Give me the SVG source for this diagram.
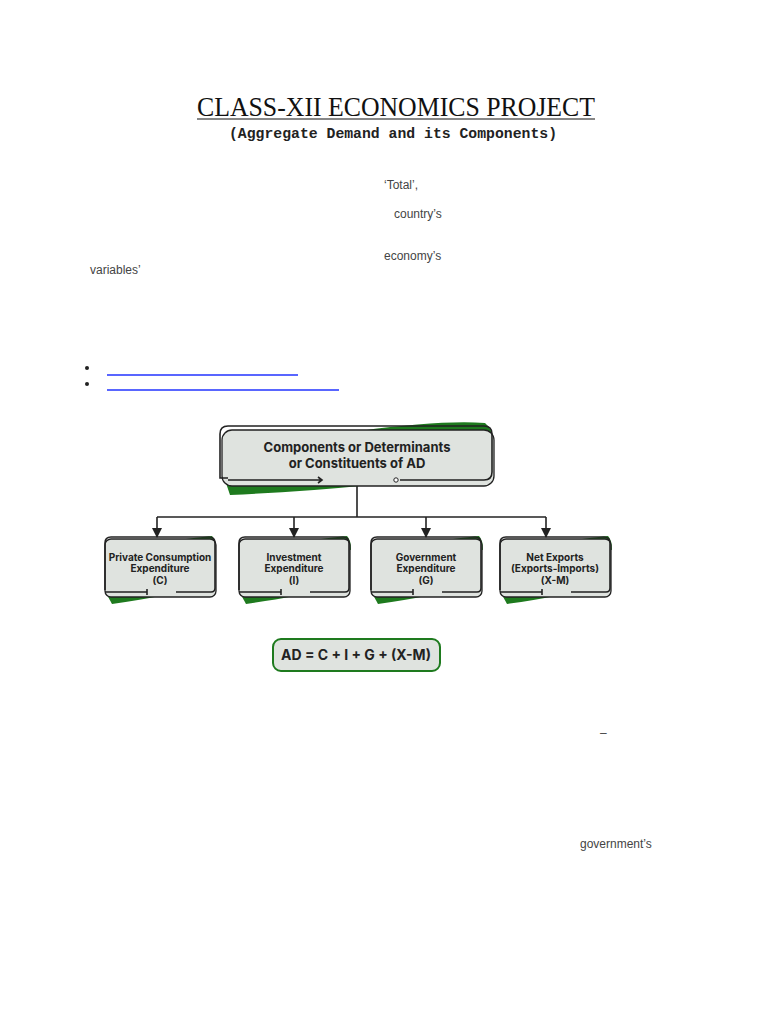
<svg xmlns="http://www.w3.org/2000/svg" width="768" height="1024" viewBox="0 0 768 1024">
<style>
.t{font-family:"Liberation Sans",Arial,sans-serif;font-size:12px;fill:#444}
.b{font-family:"Inter","Liberation Sans",sans-serif;font-weight:bold;fill:#222;text-anchor:middle}
.box{fill:#dfe3df;stroke:#222;stroke-width:1.3}
.g{fill:#1e7a1e}
.ln{stroke:#222;stroke-width:1.6;fill:none}
</style>
<defs>
<marker id="dn" viewBox="0 0 10 10" refX="5" refY="9" markerWidth="10" markerHeight="10" markerUnits="userSpaceOnUse"><path d="M0,0 L10,0 L5,10 Z" fill="#222"/></marker>
</defs>
<rect width="768" height="1024" fill="#fff"/>
<g id="title">
<text x="396" y="116" text-anchor="middle" font-family="Liberation Serif,serif" font-size="27" fill="#111" textLength="398" lengthAdjust="spacingAndGlyphs">CLASS-XII ECONOMICS PROJECT</text>
<line x1="197" y1="119" x2="595" y2="119" stroke="#111" stroke-width="1.2"/>
<text x="393" y="138" text-anchor="middle" font-family="Liberation Mono,monospace" font-weight="bold" font-size="14" fill="#222" textLength="328" lengthAdjust="spacingAndGlyphs">(Aggregate Demand and its Components)</text>
</g>
<g id="texts">
<text class="t" x="384" y="189">‘Total’,</text>
<text class="t" x="394" y="218">country’s</text>
<text class="t" x="384" y="260">economy’s</text>
<text class="t" x="90" y="274">variables’</text>
<text class="t" x="600" y="737">–</text>
<text class="t" x="580" y="848">government’s</text>
<circle cx="87" cy="368" r="2" fill="#222"/>
<circle cx="87" cy="384" r="2" fill="#222"/>
<line x1="107" y1="375" x2="298" y2="375" stroke="#2233ff" stroke-width="1.4"/>
<line x1="107" y1="390" x2="339" y2="390" stroke="#2233ff" stroke-width="1.4"/>
</g>
<g id="connectors">
<line class="ln" x1="357" y1="485" x2="357" y2="517"/>
<line class="ln" x1="157" y1="517" x2="546" y2="517"/>
<line class="ln" x1="157" y1="517" x2="157" y2="537" marker-end="url(#dn)"/>
<line class="ln" x1="294" y1="517" x2="294" y2="537" marker-end="url(#dn)"/>
<line class="ln" x1="426" y1="517" x2="426" y2="537" marker-end="url(#dn)"/>
<line class="ln" x1="546" y1="517" x2="546" y2="537" marker-end="url(#dn)"/>
</g>
<g id="main">
<path class="g" d="M360,431 Q440,420 485,423 Q494,430 494,445 L480,432 Z"/>
<path class="g" d="M225,480 L230,495 Q300,492 360,486 L240,484 Z"/>
<rect class="box" x="222" y="430" width="272" height="56" rx="10" stroke="none"/>
<path d="M228,478 L220,478 L220,434 Q220,426 228,426 L484,426 Q492,426 492,434 L492,472 Q492,480 484,480 L400,480" class="ln" stroke-width="1.2"/>
<path d="M228,480 L322,480 M318,477 L322,480 L318,483" class="ln" stroke-width="1.2"/>
<circle cx="396" cy="480" r="2.2" fill="#fff" stroke="#222"/>
<text class="b" x="357" y="452" font-size="13">Components or Determinants</text>
<text class="b" x="357" y="468" font-size="13">or Constituents of AD</text>
</g>
<g id="n1">
<path class="g" d="M170,541 Q200,537 212,536 Q216,540 216,550 Z"/><path class="g" d="M106,593 L112,604 Q140,600 160,596 Z"/>
<rect class="box" x="105" y="539" width="111" height="58" rx="6" stroke="none"/>
<path d="M105,590 L105,543 Q105,537 111,537 L209,537 Q215,537 215,543 L215,588 Q215,592 211,592 L176,592 M105,592 L147,592 M147,589 L147,595" class="ln" stroke-width="1.1"/>
<text class="b" x="160" y="561" font-size="10">Private Consumption</text><text class="b" x="160" y="572" font-size="10">Expenditure</text><text class="b" x="160" y="584" font-size="10">(C)</text>
</g>
<g id="n2">
<path class="g" d="M305,541 Q335,537 347,536 Q351,540 351,550 Z"/><path class="g" d="M240,593 L246,604 Q274,600 294,596 Z"/>
<rect class="box" x="239" y="539" width="111" height="58" rx="6" stroke="none"/>
<path d="M239,590 L239,543 Q239,537 245,537 L343,537 Q349,537 349,543 L349,588 Q349,592 345,592 L310,592 M239,592 L281,592 M281,589 L281,595" class="ln" stroke-width="1.1"/>
<text class="b" x="294" y="561" font-size="10">Investment</text><text class="b" x="294" y="572" font-size="10">Expenditure</text><text class="b" x="294" y="584" font-size="10">(I)</text>
</g>
<g id="n3">
<path class="g" d="M437,541 Q467,537 479,536 Q483,540 483,550 Z"/><path class="g" d="M372,593 L378,604 Q406,600 426,596 Z"/>
<rect class="box" x="371" y="539" width="111" height="58" rx="6" stroke="none"/>
<path d="M371,590 L371,543 Q371,537 377,537 L475,537 Q481,537 481,543 L481,588 Q481,592 477,592 L442,592 M371,592 L413,592 M413,589 L413,595" class="ln" stroke-width="1.1"/>
<text class="b" x="426" y="561" font-size="10">Government</text><text class="b" x="426" y="572" font-size="10">Expenditure</text><text class="b" x="426" y="584" font-size="10">(G)</text>
</g>
<g id="n4">
<path class="g" d="M566,541 Q596,537 608,536 Q612,540 612,550 Z"/><path class="g" d="M501,593 L507,604 Q535,600 555,596 Z"/>
<rect class="box" x="500" y="539" width="111" height="58" rx="6" stroke="none"/>
<path d="M500,590 L500,543 Q500,537 506,537 L604,537 Q610,537 610,543 L610,588 Q610,592 606,592 L571,592 M500,592 L542,592 M542,589 L542,595" class="ln" stroke-width="1.1"/>
<text class="b" x="555" y="561" font-size="10">Net Exports</text><text class="b" x="555" y="572" font-size="10">(Exports-Imports)</text><text class="b" x="555" y="584" font-size="10">(X-M)</text>
</g>
<g id="formula">
<rect x="273" y="639" width="167" height="32" rx="8" fill="#dfe3df" stroke="#1e7a1e" stroke-width="2"/>
<text class="b" x="356" y="660" font-size="14">AD = C + I + G + (X-M)</text>
</g>
</svg>
